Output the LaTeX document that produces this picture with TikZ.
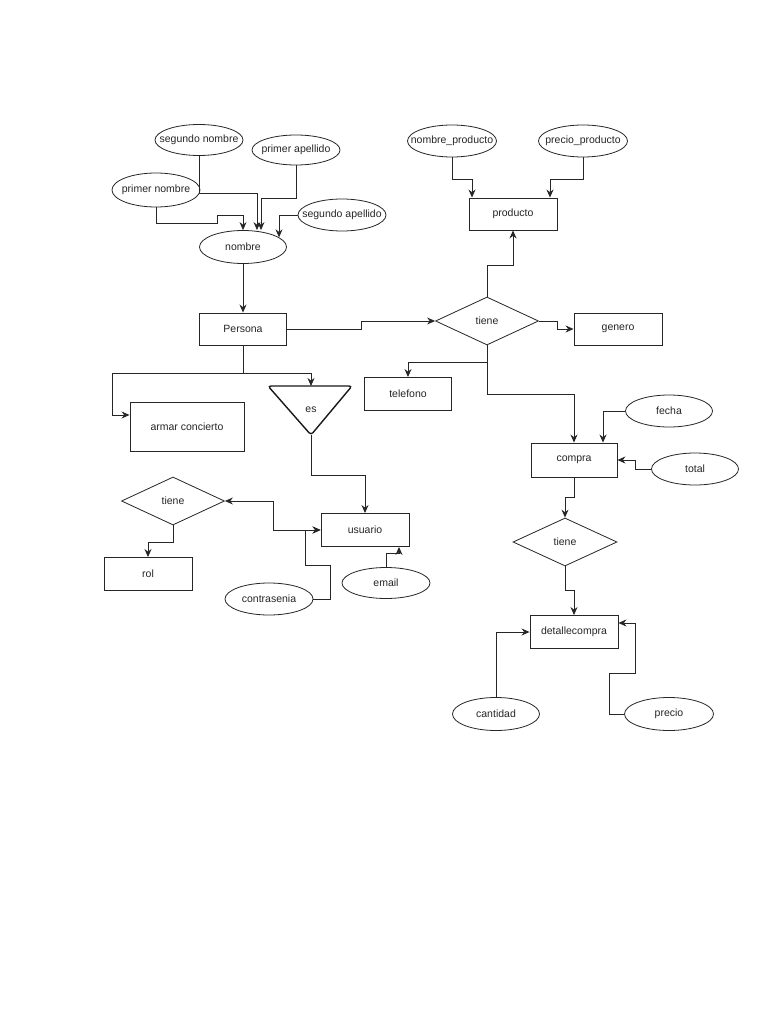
\documentclass[tikz,border=0pt]{standalone}
\usepackage{fontspec}
\setmainfont{Liberation Sans}
\usetikzlibrary{shapes.geometric,arrows.meta}
\newcommand{\zt}[1]{\makebox[0pt]{#1}}
\begin{document}
\begin{tikzpicture}[x=1pt,y=-1pt,
  every node/.style={font=\fontsize{10.5}{12}\selectfont, text=black!85},
  ent/.style={draw=black!85, rectangle, minimum width=88pt, minimum height=33pt, inner sep=0pt, line width=0.9pt},
  attr/.style={draw=black!85, ellipse, minimum width=88pt, minimum height=32pt, inner sep=0pt, line width=0.8pt},
  rel/.style={draw=black!85, diamond, minimum width=103pt, minimum height=48pt, inner sep=0pt, line width=0.8pt},
  link/.style={draw=black!85, line width=0.9pt, -{Stealth[length=8pt,width=7pt]}},
  link2/.style={draw=black!85, line width=0.9pt, {Stealth[length=8pt,width=7pt]}-{Stealth[length=8pt,width=7pt]}}]
\fill[white] (0,0) rectangle (768,1024);
\useasboundingbox (0,0) rectangle (768,1024);

% nodes
\node[attr,minimum height=31pt] (sn) at (199,140) {\zt{segundo nombre}};
\node[attr,minimum height=30pt] (pa) at (296,150) {\zt{primer apellido}};
\node[attr,minimum height=34pt] (pn) at (156,190) {\zt{primer nombre}};
\node[attr] (sa) at (342,215) {\zt{segundo apellido}};
\node[attr,minimum height=33pt,minimum width=87pt] (nom) at (243,247) {\zt{nombre}};
\node[ent,minimum height=32pt,minimum width=87pt] (per) at (243,329) {Persona};
\node[rel] (t1) at (487,321) {tiene};
\node[ent,minimum height=32pt] (gen) at (618,329) {genero};
\node[ent,minimum width=87pt] (tel) at (408,394) {telefono};
\node[ent,minimum height=32pt] (prod) at (513,214) {producto};
\node[attr,minimum width=89pt] (np) at (452,141) {\zt{nombre\_producto}};
\node[attr,minimum width=89pt] (pp) at (583,141) {\zt{precio\_producto}};
\node[ent,minimum width=86pt,minimum height=34pt] (com) at (574,460) {compra};
\node[attr,minimum width=87pt] (fe) at (669,411) {\zt{fecha}};
\node[attr,minimum width=87pt] (tot) at (695,469) {\zt{total}};
\node[rel,minimum width=104pt] (t2) at (565,542) {tiene};
\node[ent] (det) at (574,632) {detallecompra};
\node[attr,minimum width=87pt,minimum height=33pt] (can) at (496,714) {\zt{cantidad}};
\node[attr,minimum width=89pt,minimum height=33pt] (pre) at (669,714) {\zt{precio}};
\node[ent,minimum width=114pt,minimum height=49pt] (arm) at (187,427) {armar concierto};
\draw[draw=black!90, line width=1.4pt, rounded corners=3pt] (268,386) -- (352,386) -- (311,435) -- cycle;
\node (es) at (311,410) {es};
\coordinate (esTop) at (311,386);
\coordinate (esApex) at (311,435);
\node[ent] (usu) at (365,530) {usuario};
\node[rel] (t3) at (173,501) {tiene};
\node[ent] (rol) at (148,574) {rol};
\node[attr] (con) at (269,599) {\zt{contrasenia}};
\node[attr,minimum height=31pt] (ema) at (386,583) {\zt{email}};

% connectors
\draw[link] (sn.south) |- (257,193) -- (nom.north -| 257,0);
\draw[link] (pn.south) |- (217,223) -- (217,215) -| (nom.north);
\draw[link] (pa.south) |- (261,198) -- (nom.north -| 261,0);
\draw[link] (sa.west) -| (nom.15);
\draw[link] (nom.south) -- (per.north);
\draw[link] (per.east) -- (361,329) -- (361,321) -- (t1.west);
\draw[link] (t1.east) -- (557,321) -- (557,329) -- (gen.west);
\draw[link] (t1.north) -- (487,265) -| (prod.south);
\draw[link] (np.south) |- (472,179) -- (prod.north -| 472,0);
\draw[link] (pp.south) |- (550,179) -- (prod.north -| 550,0);
\draw[link] (t1.south) |- (408,362) -- (tel.north);
\draw[link] (t1.south) -- (487,394) -| (com.north);
\draw[link] (fe.west) -| (com.north -| 603,0);
\draw[link] (tot.west) -- (635,469) -- (635,460) -- (com.east);
\draw[link] (com.south) -- (574,497) -| (t2.north);
\draw[link] (t2.south) -- (565,590) -| (det.north);
\draw[link] (can.north) |- (det.west);
\draw[link] (pre.west) -- (609,714) -- (609,673) -- (635,673) -- (635,623) -- (det.east |- 0,623);
\draw[link] (per.south) |- (112,373) -- (112,415) -- (arm.west |- 0,415);
\draw[link] (per.south) -- (243,373) -| (esTop);
\draw[link] (esApex) -- (311,475) -| (usu.north);
\draw[link2] (t3.east) -| (273,530) -- (usu.west);
\draw[link] (t3.south) -- (173,542) -| (rol.north);
\draw[link] (con.east) -- (330,599) -- (330,565) -- (305,565) -- (305,530) -- (usu.west);
\draw[link] (ema.north) |- (399,553) -- (usu.south -| 399,0);
\end{tikzpicture}
\end{document}
